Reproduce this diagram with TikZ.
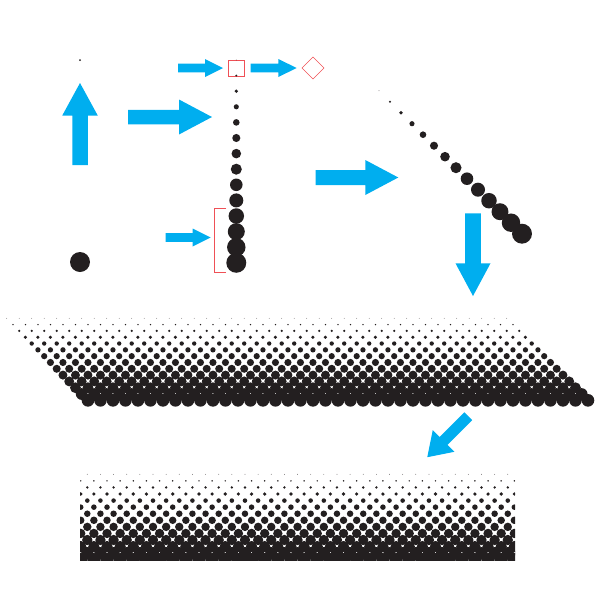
\documentclass[tikz,border=0pt]{standalone}
\usepackage{tikz}
\definecolor{arrowblue}{RGB}{0,174,239}
\definecolor{inkdot}{RGB}{35,31,32}
\definecolor{cellred}{RGB}{239,80,86}
\tikzset{
	cellbox/.style={draw=cellred,line width=0.6pt,inner sep=0pt},
	dotfill/.style={fill=inkdot}
}
\newcommand{\blockarrow}[7]{%
	\fill[arrowblue,shift={(#1,#2)},rotate=#3] (0,-#5/2) -- (#4-#7,-#5/2) -- (#4-#7,-#6/2) -- (#4,0) -- (#4-#7,#6/2) -- (#4-#7,#5/2) -- (0,#5/2) -- cycle;}

\begin{document}
\begin{tikzpicture}[x=1pt,y=-1pt]
	\useasboundingbox (0,0) rectangle (600,606);
	\fill[dotfill] (80,60) circle[radius=1];
	\fill[dotfill] (80,262) circle[radius=10];
	\blockarrow{80}{165}{90}{82}{15.5}{35.5}{32.5}
	\blockarrow{128}{117}{0}{84}{14.5}{35}{33}
	\blockarrow{178}{68}{0}{45}{8.7}{18}{18}
	\blockarrow{250.7}{68}{0}{46}{8.7}{18}{18.4}
	\blockarrow{165.7}{237.5}{0}{45}{8.7}{18}{18}
	\blockarrow{315.7}{177.5}{0}{82.6}{15}{35}{33}
	\blockarrow{473}{213.3}{-90}{82.7}{15.7}{35}{32.7}
	\blockarrow{468.3}{416.2}{225}{58}{11}{30.6}{23}
	\node[cellbox,minimum size=16pt] (cell) at (236.3,68) {};
	\node[cellbox,minimum size=15.6pt,rotate=45] (cellturned) at (313,68) {};
	\draw[cellbox] (226,208.3) -- (214.3,208.3) -- (214.3,272.3) -- (226,272.3);
	\foreach \i in {0,...,13}{
		\pgfmathsetmacro{\r}{0.35+0.74*\i}
		\fill[dotfill] (236.3,60+15.6*\i) circle[radius=\r];
		\fill[dotfill] (379+11*\i,90.7+11*\i) circle[radius=\r];
	}
	\foreach \k in {0,...,13}{
		\pgfmathsetmacro{\r}{0.35+0.46*\k}
		\foreach \j in {0,...,40}
			\fill[dotfill] (6.7+6.25*\k+12.5*\j,318.3+6.31*\k) circle[radius=\r];
	}
	\begin{scope}
		\clip (80,466) rectangle (515,560);
		\foreach \k in {0,...,13}{
			\pgfmathsetmacro{\r}{1.046*(0.35+0.46*\k)}
			\pgfmathsetmacro{\xo}{87.3-6.57*mod(\k,2)}
			\foreach \j in {-1,...,33}
				\fill[dotfill] (\xo+13.14*\j,474.3+6.57*\k) circle[radius=\r];
		}
	\end{scope}
\end{tikzpicture}
\end{document}
